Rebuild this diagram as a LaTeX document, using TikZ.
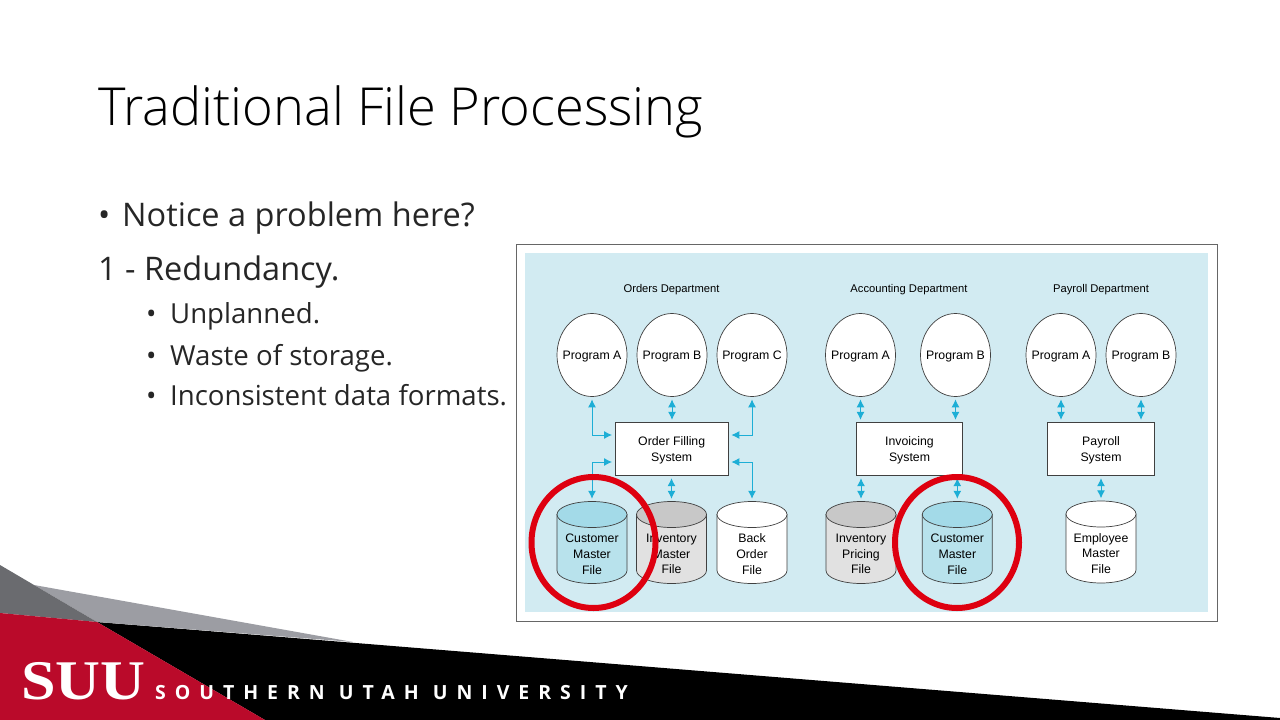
\documentclass[tikz,border=0pt]{standalone}
\usepackage{fontspec}
\setmainfont{Liberation Sans}
\newfontfamily\slidefont{Open Sans}
\newfontfamily\titlefont{Open Sans Light}
\newfontfamily\logofont[FakeStretch=1.11]{Liberation Serif}
\newfontfamily\bannerfont[LetterSpace=46]{Open Sans}
\usetikzlibrary{arrows.meta,shapes.geometric}
\definecolor{panelblue}{HTML}{D2EBF2}
\definecolor{linkblue}{HTML}{1DAED6}
\definecolor{custbody}{HTML}{B8E2EC}
\definecolor{custtop}{HTML}{A3DAE8}
\definecolor{invbody}{HTML}{E1E1E1}
\definecolor{invtop}{HTML}{C8C8C8}
\definecolor{circlered}{HTML}{DE0010}
\definecolor{suured}{HTML}{BA0A2A}
\definecolor{greylight}{HTML}{9C9DA3}
\definecolor{greydark}{HTML}{6A6B6F}
\definecolor{slideink}{HTML}{262626}
\tikzset{
    program/.style={draw=black!75, fill=white, ellipse, line width=0.7pt, inner sep=-10pt, minimum width=70pt, minimum height=83pt, text depth=0pt, font=\fontsize{12.3}{15}\selectfont},
    syst/.style={draw=black!75, fill=white, line width=0.8pt, inner sep=0pt, minimum height=52.5pt, align=center, text depth=0pt, font=\fontsize{12.3}{16}\selectfont},
    dept/.style={text depth=0pt, font=\fontsize{11.2}{14}\selectfont},
    drumlabel/.style={align=center, inner sep=0pt, text depth=0pt, font=\fontsize{12.3}{15.7}\selectfont},
    link/.style={draw=linkblue, line width=1pt, {Latex[length=8pt,width=8pt]}-{Latex[length=8pt,width=8pt]}, shorten <=2.5pt, shorten >=2.5pt},
    redring/.style={draw=circlered, ellipse, line width=6pt, inner sep=0pt, minimum width=124pt, minimum height=131pt},
    bigline/.style={anchor=base west, inner sep=0pt, text=slideink, font=\slidefont\fontsize{32.5}{38}\selectfont},
    smallline/.style={anchor=base west, inner sep=0pt, text=slideink, font=\slidefont\fontsize{27.6}{32}\selectfont},
}
\NewDocumentCommand{\filedrum}{mmmmmm}{%
\begin{scope}[shift={(#2,#3)}]%
\filldraw[draw=black!75, fill=#4, line width=0.7pt] (-35,0) -- (-35,56) arc[start angle=180, end angle=0, x radius=35, y radius=13] -- (35,0) -- cycle;%
\filldraw[draw=black!75, fill=#5, line width=0.7pt] (0,0) ellipse [x radius=35, y radius=13];%
\node[inner sep=0pt, minimum width=70pt, minimum height=82pt] (#1) at (0,28) {};%
\node[drumlabel] (#1label) at (0,39.5) {#6};%
\end{scope}%
}
\begin{document}
\begin{tikzpicture}[x=1pt, y=-1pt]
    \useasboundingbox (0,0) rectangle (1280,720);

    % footer
    \fill[black] (97,622) -- (1280,718) -- (1280,720) -- (265,720) -- cycle;
    \fill[greylight] (34,585) -- (353,642) -- (97,622) -- cycle;
    \fill[greydark] (0,565) -- (97,622) -- (0,613) -- cycle;
    \fill[suured] (0,613) -- (97,622) -- (265,720) -- (0,720) -- cycle;
    \node[anchor=base west, inner sep=0pt, text=white] (logo) at (21,699) {\logofont\bfseries\fontsize{56}{58}\selectfont SUU};
    \node[anchor=base west, inner sep=0pt, text=white] (banner) at (155,699) {\bannerfont\bfseries\fontsize{19.5}{20}\selectfont SOUTHERN UTAH UNIVERSITY};

    % text
    \node[anchor=base west, inner sep=0pt, text=black, font=\titlefont\fontsize{52.4}{60}\selectfont] (title) at (98,125) {Traditional File Processing};
    \node[bigline] (b1) at (98,226) {\makebox[24pt][l]{•}Notice a problem here?};
    \node[bigline] (b2) at (98,280) {1 - Redundancy.};
    \node[smallline] (b3) at (146,323) {\makebox[24pt][l]{•}Unplanned.};
    \node[smallline] (b4) at (146,365) {\makebox[24pt][l]{•}Waste of storage.};
    \node[smallline] (b5) at (146,405) {\makebox[24pt][l]{•}Inconsistent data formats.};

    % figure
    \draw[draw=black!60, fill=white, line width=1pt] (516.5,244.5) rectangle (1217.5,621);
    \fill[panelblue] (525,253) rectangle (1208,612);
    \node[dept] (orders) at (671.5,288.5) {Orders Department};
    \node[dept] (accounting) at (909,288.5) {Accounting Department};
    \node[dept] (payroll) at (1101,288.5) {Payroll Department};

    % orders
    \node[program] (ordA) at (592,355) {Program A};
    \node[program] (ordB) at (672,355) {Program B};
    \node[program] (ordC) at (752,355) {Program C};
    \node[syst, minimum width=113.5pt] (ordsys) at (671.7,449) {Order Filling\\System};
    \filedrum{ordcust}{592}{514.5}{custbody}{custtop}{Customer\\Master\\File}
    \filedrum{ordinv}{671.5}{514.5}{invbody}{invtop}{Inventory\\Master\\File}
    \filedrum{ordback}{752}{514.5}{white}{white}{Back\\Order\\File}
    \draw[link] (ordA.south) |- ([yshift=14pt]ordsys.west);
    \draw[link] (ordB.south) -- (ordsys.north -| ordB.south);
    \draw[link] (ordC.south) |- ([yshift=14pt]ordsys.east);
    \draw[link] (ordcust.north) |- ([yshift=-13pt]ordsys.west);
    \draw[link] (ordinv.north) -- (ordsys.south -| ordinv.north);
    \draw[link] (ordback.north) |- ([yshift=-13pt]ordsys.east);

    % accounting
    \node[program] (accA) at (860.5,355) {Program A};
    \node[program] (accB) at (955.5,355) {Program B};
    \node[syst, minimum width=106.5pt] (accsys) at (909.5,449) {Invoicing\\System};
    \filedrum{accinv}{861}{514.5}{invbody}{invtop}{Inventory\\Pricing\\File}
    \filedrum{acccust}{957.3}{514.5}{custbody}{custtop}{Customer\\Master\\File}
    \draw[link] (accA.south) -- (accsys.north -| accA.south);
    \draw[link] (accB.south) -- (accsys.north -| accB.south);
    \draw[link] (accinv.north) -- (accsys.south -| accinv.north);
    \draw[link] (acccust.north) -- (accsys.south -| acccust.north);

    % payroll
    \node[program] (payA) at (1061,355) {Program A};
    \node[program] (payB) at (1141,355) {Program B};
    \node[syst, minimum width=106.5pt] (paysys) at (1101,449) {Payroll\\System};
    \filedrum{payemp}{1101}{514}{white}{white}{Employee\\Master\\File}
    \draw[link] (payA.south) -- (paysys.north -| payA.south);
    \draw[link] (payB.south) -- (paysys.north -| payB.south);
    \draw[link] (payemp.north) -- (paysys.south -| payemp.north);

    % rings
    \node[redring] (ringA) at (593.5,542.5) {};
    \node[redring] (ringB) at (957,542.5) {};
\end{tikzpicture}
\end{document}
